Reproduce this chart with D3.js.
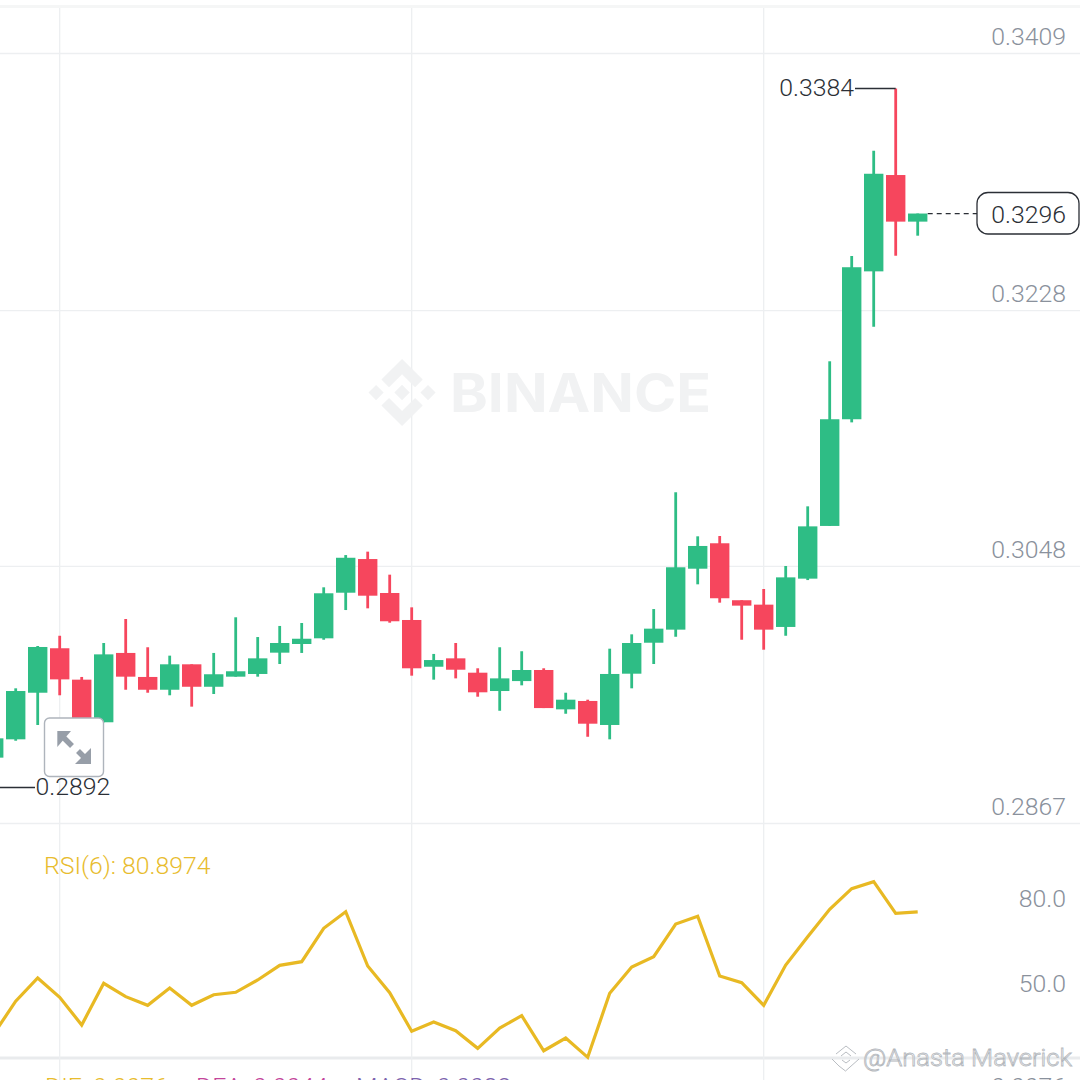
<!DOCTYPE html>
<html>
<head>
<meta charset="utf-8">
<script src="https://cdn.jsdelivr.net/npm/d3@7/dist/d3.min.js"></script>
<style>
html,body{margin:0;padding:0;background:#fff;overflow:hidden}
svg{display:block}
text{font-family:Roboto,sans-serif;font-weight:300}
</style>
</head>
<body>
<div id="chart"></div>
<script>
const opens=[.29130,.29259,.29587,.29900,.29679,.29379,.29867,.29698,.29608,.29787,.29629,.29700,.29719,.29869,.29930,.29970,.30291,.30528,.30289,.30099,.29770,.29829,.29728,.29599,.29669,.29747,.29470,.29529,.29360,.29721,.29939,.30031,.30460,.30639,.30238,.30207,.30050,.30390,.30761,.31512,.32553,.33231,.32903];
const closes=[.29266,.29599,.29909,.29681,.29395,.29857,.29700,.29608,.29787,.29629,.29717,.29738,.29829,.29937,.29967,.30287,.30537,.30270,.30090,.29759,.29817,.29749,.29590,.29688,.29747,.29479,.29538,.29369,.29719,.29937,.30038,.30470,.30620,.30252,.30200,.30031,.30399,.30758,.31512,.32582,.33240,.32903,.3296];
const highs=[.29266,.29618,.29916,.29988,.29698,.29937,.30106,.29907,.29848,.29787,.29867,.30118,.29979,.30057,.30078,.30329,.30556,.30580,.30418,.30188,.29860,.29937,.29759,.29907,.29879,.29759,.29587,.29538,.29897,.29998,.30176,.30998,.30688,.30690,.30238,.30317,.30479,.30899,.31920,.32661,.33402,.3384,.3296];
const lows=[.29130,.29249,.29360,.29569,.29388,.29379,.29608,.29587,.29569,.29489,.29578,.29700,.29700,.29789,.29867,.29960,.30169,.30181,.30080,.29707,.29679,.29688,.29559,.29460,.29639,.29479,.29439,.29277,.29259,.29618,.29789,.29981,.30350,.30221,.29960,.29890,.29988,.30380,.30761,.31490,.32163,.32663,.32804];
const rsi=[37.8,49.4,57.6,50.8,41.0,55.7,51.0,47.95,54.06,47.95,51.69,52.54,56.88,62.07,63.34,75.13,80.99,61.82,52.4,38.77,42.05,38.98,32.77,39.94,44.28,31.92,36.41,29.59,52.18,61.47,65.1,76.65,79.36,58.29,55.93,47.95,62.17,72.16,81.84,89.11,91.58,80.42,80.8974];
const priceTicks=[0.3409,0.3228,0.3048,0.2867];
const rsiTicks=[80,50];
const gridIndices=[3,19,35];
const lastPrice=0.3296, maxPrice=0.3384, minPrice=0.2892;
const macdLabels=[["DIF: 0.0076","#E8BC2E",45],["DEA: 0.0044","#C4459B",196],["MACD: 0.0032","#7D63AE",356]];

const W=1080,H=1080,FS="24.8px";
const C={up:"#2EBD85",down:"#F6465D",grid:"#EDEFF1",axis:"#8A919C",ink:"#2B2F36",rsi:"#E8B923"};
const x=d3.scaleLinear().domain([0,42]).range([-6.3,917.7]);
const y=d3.scaleLinear().domain([0.2867,0.3409]).range([823,53]);
const yR=d3.scaleLinear().domain([50,80]).range([999.5,914.5]);
const idx=d3.range(opens.length);
const svg=d3.select("#chart").append("svg").attr("width",W).attr("height",H);

// frame bands
svg.append("rect").attr("x",0).attr("y",5).attr("width",W).attr("height",3).attr("fill","#F5F6F6");
svg.append("line").attr("x1",0).attr("x2",W).attr("y1",1058).attr("y2",1058).attr("stroke","#E9EBED").attr("stroke-width",3);

// vertical grid
svg.append("g").selectAll("line").data(gridIndices).join("line")
  .attr("x1",d=>x(d)).attr("x2",d=>x(d)).attr("y1",8).attr("y2",H)
  .attr("stroke",C.grid).attr("stroke-width",1.3);

// watermark
const wm=svg.append("g").attr("transform","translate(368.5,359) scale(0.53)").attr("fill","#F1F2F3");
["38.73,53.2 63.3,28.62 87.92,53.22 102.22,38.91 63.3,0 24.42,38.9",
 "0,63.31 14.3,49 28.61,63.3 14.31,77.61",
 "38.73,73.41 63.3,98 87.92,73.39 102.23,87.69 63.3,126.61 24.42,87.71",
 "98,63.31 112.3,49 126.61,63.3 112.31,77.61",
 "77.83,63.3 63.3,48.78 48.79,63.28 63.3,77.82"].forEach(p=>wm.append("polygon").attr("points",p));
svg.append("text").text("BINANCE").attr("x",450).attr("y",411.5)
  .attr("textLength",261).attr("lengthAdjust","spacingAndGlyphs")
  .style("font-family","Inter,sans-serif").style("font-weight",700).style("font-size","53px").attr("fill","#F1F2F3");

// price axis
const ax=svg.append("g").attr("transform",`translate(${W},0)`)
  .call(d3.axisLeft(y).tickValues(priceTicks).tickSize(W).tickFormat(d=>d.toFixed(4)));
ax.select(".domain").remove();
ax.selectAll("line").attr("stroke",C.grid).attr("stroke-width",1.3);
ax.selectAll("text").attr("x",-14).attr("y",-8.5).attr("dy",0).attr("text-anchor","end")
  .attr("fill",C.axis).style("font-size",FS).style("font-family","Roboto,sans-serif");

// rsi axis
const ar=svg.append("g").attr("transform",`translate(${W},0)`)
  .call(d3.axisLeft(yR).tickValues(rsiTicks).tickSize(0).tickFormat(d=>d.toFixed(1)));
ar.select(".domain").remove();
ar.selectAll("text").attr("x",-14).attr("y",-8).attr("dy",0).attr("text-anchor","end")
  .attr("fill",C.axis).style("font-size",FS).style("font-family","Roboto,sans-serif");

// candles
const col=i=>closes[i]>=opens[i]?C.up:C.down;
const g=svg.append("g");
g.selectAll("line").data(idx).join("line")
  .attr("x1",i=>x(i)).attr("x2",i=>x(i)).attr("y1",i=>y(highs[i])).attr("y2",i=>y(lows[i]))
  .attr("stroke",col).attr("stroke-width",2.8);
g.selectAll("rect").data(idx).join("rect")
  .attr("x",i=>x(i)-9.7).attr("width",19.4)
  .attr("y",i=>y(Math.max(opens[i],closes[i])))
  .attr("height",i=>Math.max(1,Math.abs(y(opens[i])-y(closes[i]))))
  .attr("fill",col);

// rsi line
svg.append("path").datum(idx)
  .attr("d",d3.line().x(i=>x(i)).y(i=>yR(rsi[i])))
  .attr("fill","none").attr("stroke",C.rsi).attr("stroke-width",3.2).attr("stroke-linejoin","miter");

// high label
const hi=highs.indexOf(maxPrice);
svg.append("line").attr("x1",855).attr("x2",x(hi)).attr("y1",y(maxPrice)).attr("y2",y(maxPrice)).attr("stroke",C.ink).attr("stroke-width",1.3);
svg.append("text").text(maxPrice.toFixed(4)).attr("x",854).attr("y",y(maxPrice)+7.5).attr("text-anchor","end")
  .attr("fill",C.ink).style("font-size",FS);
// low label
svg.append("line").attr("x1",0).attr("x2",35).attr("y1",y(minPrice)).attr("y2",y(minPrice)).attr("stroke",C.ink).attr("stroke-width",1.3);
svg.append("text").text(minPrice.toFixed(4)).attr("x",35.5).attr("y",y(minPrice)+8)
  .attr("fill",C.ink).style("font-size",FS);

// last price tag
svg.append("line").attr("x1",x(42)+10).attr("x2",977).attr("y1",y(lastPrice)).attr("y2",y(lastPrice))
  .attr("stroke",C.ink).attr("stroke-width",1.3).attr("stroke-dasharray","5 4");
svg.append("rect").attr("x",977).attr("y",192.5).attr("width",102).attr("height",41.5).attr("rx",11)
  .attr("fill","#fff").attr("stroke",C.ink).attr("stroke-width",1.3);
svg.append("text").text(lastPrice.toFixed(4)).attr("x",1066).attr("y",222.5).attr("text-anchor","end")
  .attr("fill",C.ink).style("font-size",FS);

// expand button
svg.append("rect").attr("x",44.5).attr("y",718).attr("width",59).attr("height",58.5).attr("rx",5)
  .attr("fill","#fff").attr("stroke","#AEB4BC").attr("stroke-width",1.4);
const ic=svg.append("g").attr("fill","#979EA8");
ic.append("polygon").attr("points","57.3,731 71,731 57.3,747");
ic.append("polygon").attr("points","91,764 75,764 91,748");
ic.append("line").attr("x1",62).attr("y1",736).attr("x2",72).attr("y2",746).attr("stroke","#979EA8").attr("stroke-width",5.5);
ic.append("line").attr("x1",86).attr("y1",759).attr("x2",78).attr("y2",751).attr("stroke","#979EA8").attr("stroke-width",5.5);

// legends
svg.append("text").text("RSI(6): 80.8974").attr("x",44).attr("y",873.5).attr("fill","#E8BC2E").style("font-size",FS);
svg.append("g").selectAll("text").data(macdLabels).join("text")
  .text(d=>d[0]).attr("x",d=>d[2]).attr("y",1094.5).attr("fill",d=>d[1]).style("font-size",FS);
svg.append("text").text("0.0076").attr("x",1066).attr("y",1094.5).attr("text-anchor","end").attr("fill",C.axis).style("font-size",FS);

// author watermark
const am=svg.append("g").attr("fill","none").attr("stroke","#B9BDC2").attr("stroke-width",1);
["M832,1059 L839,1066 L845.5,1071 L859,1059","M836,1054 L846,1046 L856,1054 M841,1056 L846,1052 L851,1056 M842,1060 L846,1063 L850,1060"]
  .forEach(d=>am.append("path").attr("d",d));
svg.append("text").text("@Anasta Maverick").attr("x",863).attr("y",1066).attr("textLength",209).attr("lengthAdjust","spacingAndGlyphs")
  .attr("fill","#fff").attr("fill-opacity",0.75).attr("stroke","#B4B8BD").attr("stroke-width",0.8).style("font-size","24px");
</script>
</body>
</html>
